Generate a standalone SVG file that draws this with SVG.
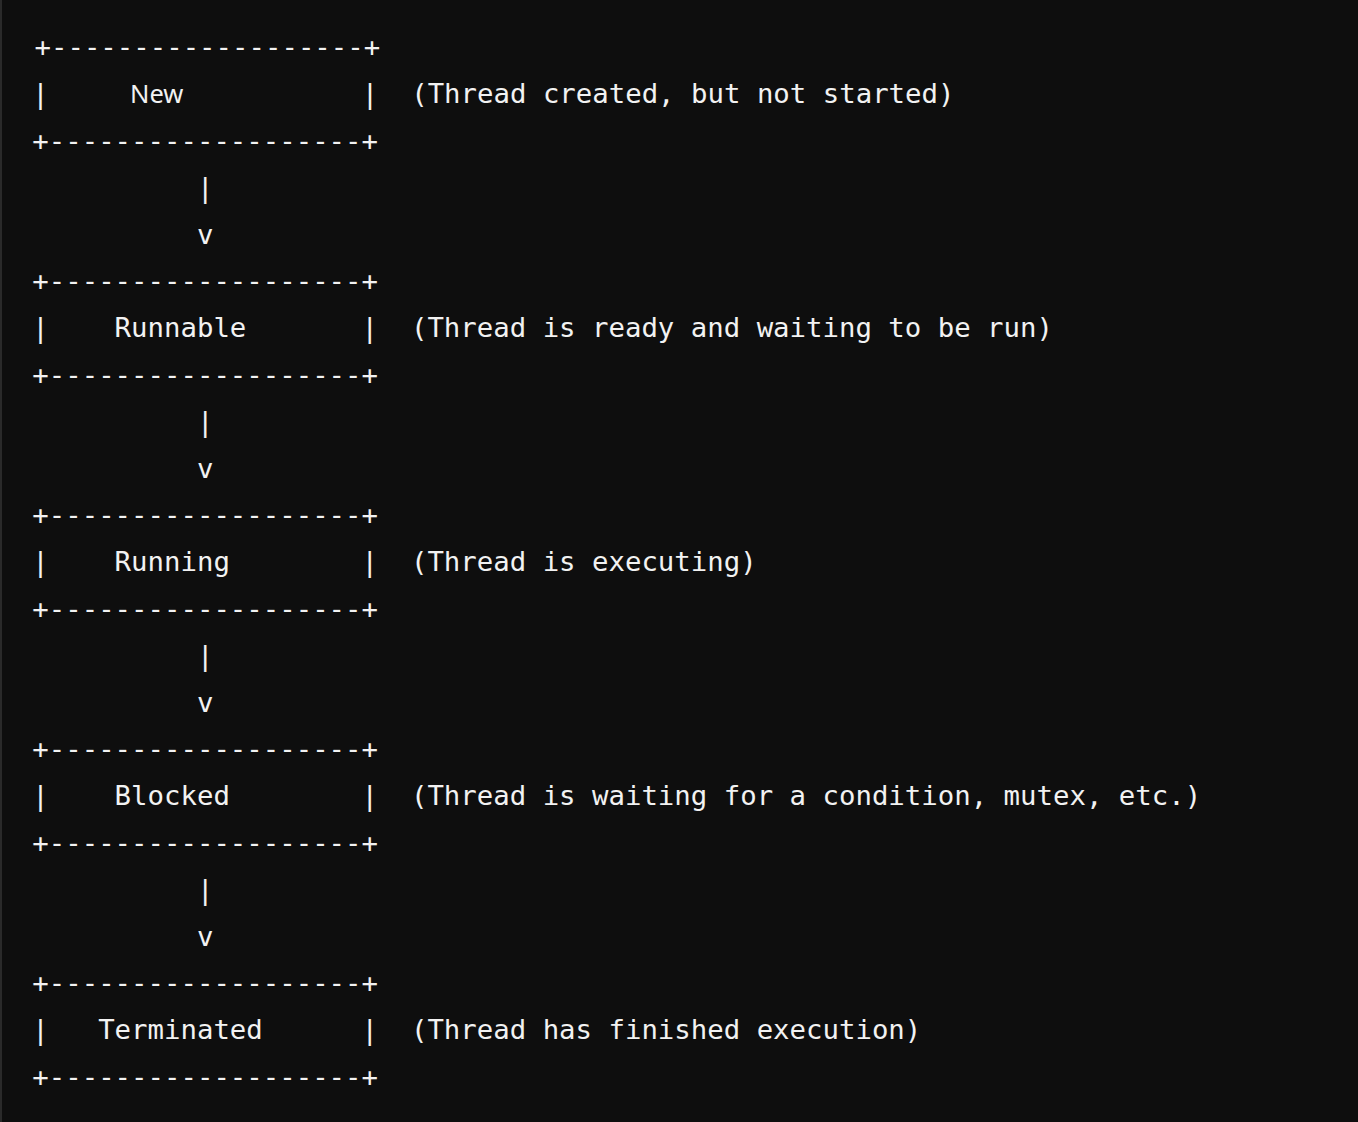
<svg xmlns="http://www.w3.org/2000/svg" width="1358" height="1122" viewBox="0 0 1358 1122">
<style>
.t{font-family:"DejaVu Sans Mono",monospace;font-size:27.35px;fill:#f2f2f2;white-space:pre}
.s{font-family:"Noto Sans","DejaVu Sans",sans-serif;font-size:25.5px;fill:#f2f2f2}
</style>
<rect width="1358" height="1122" fill="#0e0e0e"/>
<rect x="0" y="0" width="2" height="1122" fill="#2a2a2a"/>
<g id="node-new">
<text class="t" x="34.5" y="56">+-------------------+</text>
<text class="t" x="32.3" y="103">|</text>
<text class="s" x="130" y="103">New</text>
<text class="t" x="361.8" y="103">|  (Thread created, but not started)</text>
<text class="t" x="32.3" y="150">+-------------------+</text>
</g>
<g id="node-runnable">
<text class="t" x="32.3" y="290">+-------------------+</text>
<text class="t" x="32.3" y="337">|    Runnable       |  (Thread is ready and waiting to be run)</text>
<text class="t" x="32.3" y="384">+-------------------+</text>
</g>
<g id="node-running">
<text class="t" x="32.3" y="524">+-------------------+</text>
<text class="t" x="32.3" y="571">|    Running        |  (Thread is executing)</text>
<text class="t" x="32.3" y="618">+-------------------+</text>
</g>
<g id="node-blocked">
<text class="t" x="32.3" y="758">+-------------------+</text>
<text class="t" x="32.3" y="805">|    Blocked        |  (Thread is waiting for a condition, mutex, etc.)</text>
<text class="t" x="32.3" y="852">+-------------------+</text>
</g>
<g id="node-terminated">
<text class="t" x="32.3" y="992">+-------------------+</text>
<text class="t" x="32.3" y="1039">|   Terminated      |  (Thread has finished execution)</text>
<text class="t" x="32.3" y="1086">+-------------------+</text>
</g>
<g id="connectors">
<text class="t" x="32.3" y="197">          |</text>
<text class="t" x="32.3" y="244">          v</text>
<text class="t" x="32.3" y="431">          |</text>
<text class="t" x="32.3" y="478">          v</text>
<text class="t" x="32.3" y="665">          |</text>
<text class="t" x="32.3" y="712">          v</text>
<text class="t" x="32.3" y="899">          |</text>
<text class="t" x="32.3" y="946">          v</text>
</g>
</svg>
